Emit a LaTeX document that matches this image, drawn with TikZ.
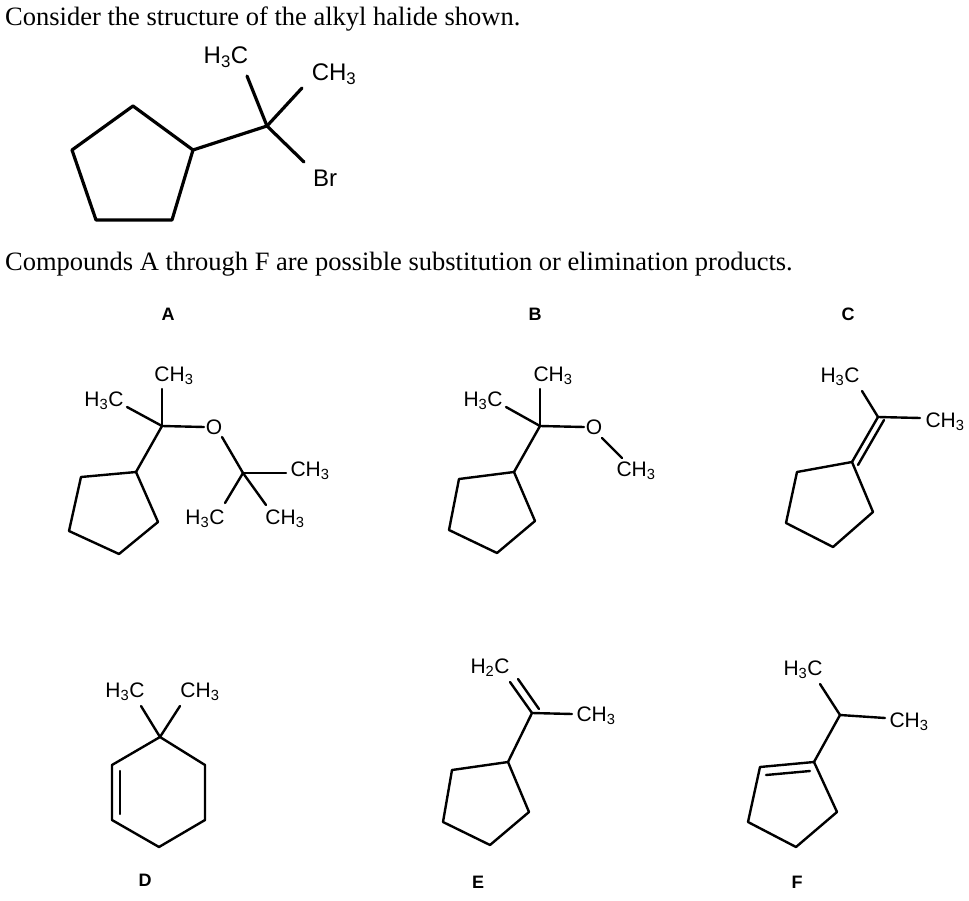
\documentclass[tikz,border=0pt]{standalone}
\usepackage{fontspec}
\usetikzlibrary{calc}
\setmainfont{Liberation Serif}
\newfontfamily\lab{Liberation Sans}
\newcommand{\tri}{\textsubscript{3}}
\newcommand{\two}{\textsubscript{2}}
\begin{document}
\begin{tikzpicture}[x=1pt,y=-1pt,
  atom/.style={font=\lab\fontsize{24}{24}\selectfont,inner sep=0pt},
  satom/.style={font=\lab\fontsize{21}{21}\selectfont,inner sep=0pt},
  hdr/.style={font=\lab\bfseries\fontsize{18}{18}\selectfont,inner sep=0pt},
  txt/.style={font=\fontsize{26.5}{26.5}\selectfont,inner sep=0pt,anchor=base west},
  bd/.style={line width=3.2pt,line join=round,line cap=round},
  sb/.style={line width=2.4pt,line join=round,line cap=round,shorten >=0pt}]
\useasboundingbox (0,0) rectangle (969,901);
\fill[white] (0,0) rectangle (969,901);
\node[txt] (t1) at (5,26) {Consider the structure of the alkyl halide shown.};
\node[txt] (t2) at (5,271) {Compounds A through F are possible substitution or elimination products.};
% top molecule
\coordinate (r1) at (133,106);\coordinate (r2) at (193,150);\coordinate (r3) at (172,220);
\coordinate (r4) at (96,220);\coordinate (r5) at (72,150);\coordinate (q) at (267,126);
\draw[bd] (r1)--(r2)--(r3)--(r4)--(r5)--cycle;
\node[atom] (m1) at (226,57) {H\tri C};
\node[atom] (m2) at (334,74) {CH\tri};
\node[atom] (br) at (325,178) {Br};
\draw[bd] (r2)--(q);
\draw[bd] (q)--(247,76);
\draw[bd] (q)--(302,88);
\draw[bd] (q)--(304,162);
% headers
\node[hdr] (hA) at (168,314) {A};
\node[hdr] (hB) at (535,314) {B};
\node[hdr] (hC) at (848,314) {C};
\node[hdr] (hD) at (145,880) {D};
\node[hdr] (hE) at (478,882) {E};
\node[hdr] (hF) at (797,882) {F};
% A
\coordinate (a1) at (136,472);\coordinate (a2) at (158,522);\coordinate (a3) at (119,554);
\coordinate (a4) at (69,531);\coordinate (a5) at (81,477);\coordinate (ac) at (162,426);
\coordinate (at) at (243,473);
\draw[sb] (a1)--(a2)--(a3)--(a4)--(a5)--cycle;
\draw[sb] (a1)--(ac);
\node[satom] (aM1) at (174,376) {CH\tri};
\node[satom] (aM2) at (104,401) {H\tri C};
\node[satom] (aO) at (214,427) {O};
\node[satom] (aM3) at (310,471) {CH\tri};
\node[satom] (aM4) at (205,519) {H\tri C};
\node[satom] (aM5) at (285,519) {CH\tri};
\draw[sb] (ac)--(162,389);
\draw[sb] (ac)--(127,407);
\draw[sb] (ac)--(204,427);
\draw[sb] (222,437)--(at);
\draw[sb] (at)--(286,473);
\draw[sb] (at)--(225,503);
\draw[sb] (at)--(266,505);
% B
\coordinate (b1) at (514,472);\coordinate (b2) at (535,521);\coordinate (b3) at (497,553);
\coordinate (b4) at (449,530);\coordinate (b5) at (459,479);\coordinate (bc) at (540,426);
\draw[sb] (b1)--(b2)--(b3)--(b4)--(b5)--cycle;
\draw[sb] (b1)--(bc);
\node[satom] (bM1) at (553,376) {CH\tri};
\node[satom] (bM2) at (483,401) {H\tri C};
\node[satom] (bO) at (594,427) {O};
\node[satom] (bM3) at (636,471) {CH\tri};
\draw[sb] (bc)--(540,389);
\draw[sb] (bc)--(506,407);
\draw[sb] (bc)--(584,427);
\draw[sb] (602,438)--(622,458);
% C
\coordinate (c1) at (852,462);\coordinate (c2) at (873,512);\coordinate (c3) at (833,547);
\coordinate (c4) at (786,523);\coordinate (c5) at (797,472);\coordinate (cc) at (878,417);
\draw[sb] (c1)--(c2)--(c3)--(c4)--(c5)--cycle;
\draw[sb] (c1)--(cc);
\draw[sb] ($(c1)+(6,3)$)--($(cc)+(6,3)$);
\node[satom] (cM1) at (840,377) {H\tri C};
\node[satom] (cM2) at (945,422) {CH\tri};
\draw[sb] (cc)--(862,391);
\draw[sb] (cc)--(920,418);
% D
\coordinate (d1) at (160,737);\coordinate (d2) at (205,765);\coordinate (d3) at (205,820);
\coordinate (d4) at (159,847);\coordinate (d5) at (112,820);\coordinate (d6) at (112,765);
\draw[sb] (d1)--(d2)--(d3)--(d4)--(d5)--(d6)--cycle;
\draw[sb] (120,771)--(120,814);
\node[satom] (dM1) at (125,692) {H\tri C};
\node[satom] (dM2) at (200,692) {CH\tri};
\draw[sb] (d1)--(141,706);
\draw[sb] (d1)--(180,706);
% E
\coordinate (e1) at (508,762);\coordinate (e2) at (529,812);\coordinate (e3) at (490,845);
\coordinate (e4) at (443,822);\coordinate (e5) at (452,770);\coordinate (ec) at (532,713);
\draw[sb] (e1)--(e2)--(e3)--(e4)--(e5)--cycle;
\draw[sb] (e1)--(ec);
\node[satom] (eM1) at (490,668) {H\two C};
\node[satom] (eM2) at (596,716) {CH\tri};
\draw[sb] (ec)--(510,682);
\draw[sb] (ec)--(572,714);
\draw[sb] (539,709)--(518,679);
% F
\coordinate (f1) at (814,762);\coordinate (f2) at (837,812);\coordinate (f3) at (796,847);
\coordinate (f4) at (748,822);\coordinate (f5) at (760,767);\coordinate (fc) at (840,715);
\draw[sb] (f1)--(f2)--(f3)--(f4)--(f5)--cycle;
\draw[sb] (766,775)--(810,771);
\draw[sb] (f1)--(fc);
\node[satom] (fM1) at (803,670) {H\tri C};
\node[satom] (fM2) at (909,722) {CH\tri};
\draw[sb] (fc)--(820,684);
\draw[sb] (fc)--(885,718);
\end{tikzpicture}
\end{document}
